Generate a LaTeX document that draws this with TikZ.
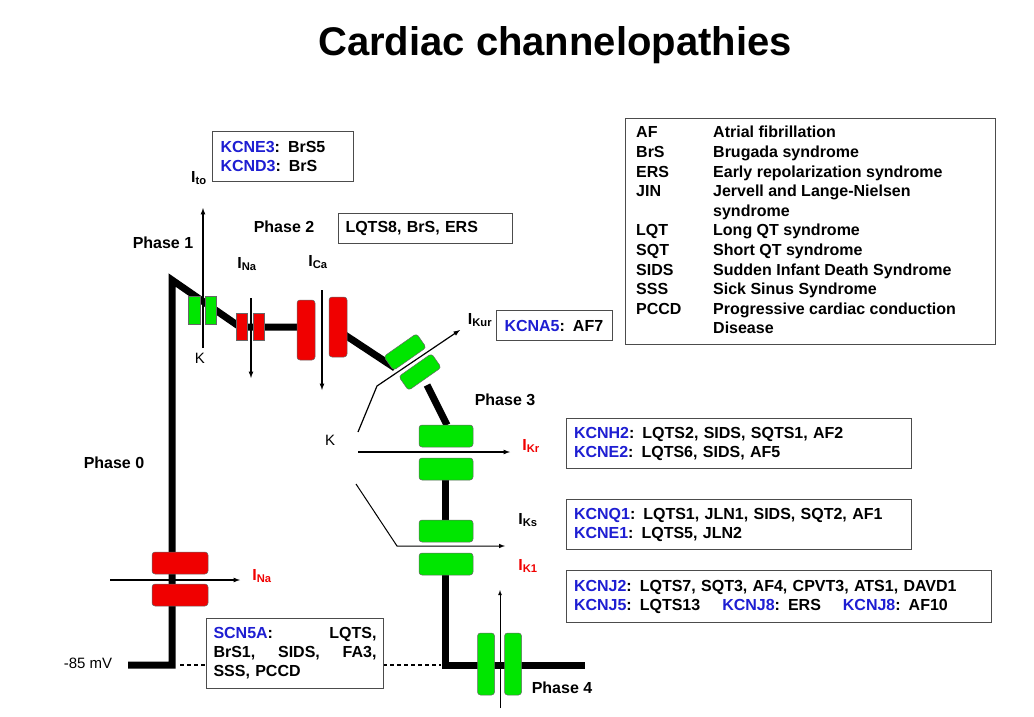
\documentclass[tikz,border=0pt]{standalone}
\usepackage{fontspec}
\setmainfont{Liberation Sans}
\definecolor{gr}{RGB}{0,230,0}
\definecolor{rd}{RGB}{240,0,0}
\definecolor{bl}{RGB}{30,30,210}
\begin{document}
\begin{tikzpicture}[x=1pt,y=-1pt,
  every node/.style={font=\fontsize{16}{19}\selectfont\bfseries},
  thick line/.style={line width=7pt},
  gch/.style={draw=black!60,fill=gr,rounded corners=3pt,line width=0.5pt},
  rch/.style={draw=black!60,fill=rd,rounded corners=3pt,line width=0.5pt},
  arr/.style={line width=1.2pt,-latex},
  box/.style={draw=black!70,line width=1pt,fill=white},
  lbl/.style={inner sep=0pt}]
\useasboundingbox (0,0) rectangle (1034,717);
\node (title) at (555,45) {\fontsize{40}{44}\selectfont\bfseries Cardiac channelopathies};
% action potential
\coordinate (a0) at (128,665); \coordinate (a1) at (172,665);
\coordinate (a2) at (172,280); \coordinate (a3) at (240,327);
\coordinate (a4) at (300,327); \coordinate (a5) at (345,335);
\coordinate (a6) at (395,368); \coordinate (a7) at (427,385);
\coordinate (a8) at (447,425); \coordinate (a9) at (445,480);
\coordinate (a10) at (445,520); \coordinate (a11) at (445,575);
\coordinate (a12) at (445,665); \coordinate (a13) at (585,665);
\draw[line width=2pt,dash pattern=on 4pt off 3pt] (180,665) -- (441,665);
\draw[thick line] (a0) -- (a1) -- (a2) -- (a3) -- (a4);
\draw[thick line] (a5) -- (a6); \draw[thick line] (a7) -- (a8);
\draw[thick line,line cap=round] (a9) -- (a10);
\draw[thick line] (a11) -- (a12) -- (a13);
% INa phase 0
\node[rch,minimum width=56pt,minimum height=22pt] (n1) at (180,563) {};
\node[rch,minimum width=56pt,minimum height=22pt] (n2) at (180,595) {};
\coordinate (s0) at (110,580); \coordinate (e0) at (240,580);
\draw[arr] (s0) -- (e0);
\node[lbl,text=rd] (ina0) at (262,576) {I\textsubscript{Na}};
% phase 1
\node[gch,rounded corners=0pt,minimum width=12pt,minimum height=28pt] (g1) at (194,310) {};
\node[gch,rounded corners=0pt,minimum width=11pt,minimum height=28pt] (g2) at (211,310) {};
\coordinate (s1) at (203,348); \coordinate (e1) at (203,208);
\draw[arr] (s1) -- (e1);
\node[lbl] (ito) at (199,178) {I\textsubscript{to}};
\node[lbl] (k1) at (200,358) {\fontsize{15}{17}\selectfont\mdseries K};
% INa small
\node[rch,rounded corners=0pt,minimum width=11pt,minimum height=27pt] (r1) at (242,327) {};
\node[rch,rounded corners=0pt,minimum width=11pt,minimum height=27pt] (r2) at (259,327) {};
\coordinate (s2) at (251,298); \coordinate (e2) at (251,378);
\draw[arr] (s2) -- (e2);
\node[lbl] (ina1) at (247,264) {I\textsubscript{Na}};
% ICa
\node[rch,minimum width=18pt,minimum height=60pt] (c1) at (306,330) {};
\node[rch,minimum width=18pt,minimum height=60pt] (c2) at (338,327) {};
\coordinate (s3) at (322,290); \coordinate (e3) at (322,390);
\draw[arr] (s3) -- (e3);
\node[lbl] (ica) at (318,262) {I\textsubscript{Ca}};
% IKur
\node[gch,minimum width=40pt,minimum height=17pt,rotate=35] (t1) at (405,352) {};
\node[gch,minimum width=40pt,minimum height=17pt,rotate=35] (t2) at (420,372) {};
\coordinate (k0) at (358,432); \coordinate (k0b) at (377,386); \coordinate (e4) at (460,330);
\draw[arr] (k0) -- (k0b) -- (e4);
\node[lbl] (ikur) at (480,320) {I\textsubscript{Kur}};
% IKr
\node[gch,minimum width=54pt,minimum height=22pt] (kr1) at (446,436) {};
\node[gch,minimum width=54pt,minimum height=22pt] (kr2) at (446,469) {};
\coordinate (s5) at (358,452); \coordinate (e5) at (510,452);
\draw[arr] (s5) -- (e5);
\node[lbl] (kk) at (330,440) {\fontsize{15}{17}\selectfont\mdseries K};
\node[lbl,text=rd] (ikr) at (531,446) {I\textsubscript{Kr}};
% IKs / IK1
\node[gch,minimum width=54pt,minimum height=22pt] (ks1) at (446,531) {};
\node[gch,minimum width=54pt,minimum height=22pt] (ks2) at (446,564) {};
\coordinate (s6) at (356,484); \coordinate (m6) at (397,546); \coordinate (e6) at (505,546);
\draw[arr,line width=1pt] (s6) -- (m6) -- (e6);
\node[lbl] (iks) at (528,520) {I\textsubscript{Ks}};
\node[lbl,text=rd] (ik1) at (528,566) {I\textsubscript{K1}};
% Phase 4
\node[gch,minimum width=17pt,minimum height=62pt] (p1) at (486,664) {};
\node[gch,minimum width=17pt,minimum height=62pt] (p2) at (513,664) {};
\coordinate (s7) at (500,708); \coordinate (e7) at (500,590);
\draw[arr,line width=0.8pt] (s7) -- (e7);
% labels
\node (ph0) at (114,463) {Phase 0};
\node (ph1) at (163,243) {Phase 1};
\node (ph2) at (284,227) {Phase 2};
\node (ph3) at (505,400) {Phase 3};
\node (ph4) at (562,688) {Phase 4};
\node (mv) at (88,663) {\fontsize{15}{17}\selectfont\mdseries -85 mV};
% boxes
\node[box,anchor=north west,minimum width=141pt,minimum height=50pt,align=left,text width=125pt,inner sep=6pt] (b1) at (212,131)
 {\textcolor{bl}{KCNE3}: BrS5\\\textcolor{bl}{KCND3}: BrS};
\node[box,anchor=north west,minimum width=174pt,minimum height=30pt,align=left,text width=160pt,inner sep=6pt] (b2) at (338,213)
 {LQTS8, BrS, ERS};
\node[box,anchor=north west,minimum width=116pt,minimum height=30pt,align=left,text width=100pt,inner sep=6pt] (b3) at (496,310)
 {\textcolor{bl}{KCNA5}: AF7};
\node[box,anchor=north west,minimum width=345pt,minimum height=50pt,align=left,text width=330pt,inner sep=6pt] (b4) at (566,418)
 {\textcolor{bl}{KCNH2}: LQTS2, SIDS, SQTS1, AF2\\\textcolor{bl}{KCNE2}: LQTS6, SIDS, AF5};
\node[box,anchor=north west,minimum width=345pt,minimum height=50pt,align=left,text width=330pt,inner sep=6pt] (b5) at (566,499)
 {\textcolor{bl}{KCNQ1}: LQTS1, JLN1, SIDS, SQT2, AF1\\\textcolor{bl}{KCNE1}: LQTS5, JLN2};
\node[box,anchor=north west,minimum width=425pt,minimum height=52pt,align=left,text width=410pt,inner sep=6pt] (b6) at (566,570)
 {\textcolor{bl}{KCNJ2}: LQTS7, SQT3, AF4, CPVT3, ATS1, DAVD1\\\textcolor{bl}{KCNJ5}: LQTS13\hspace{22pt}\textcolor{bl}{KCNJ8}: ERS\hspace{22pt}\textcolor{bl}{KCNJ8}: AF10};
\node[box,anchor=north west,minimum width=177pt,minimum height=70pt,align=left,text width=163pt,inner sep=6pt] (b7) at (206,618)
 {\makebox[163pt][s]{\textcolor{bl}{SCN5A}:\hfill LQTS,}\\\makebox[163pt][s]{BrS1,\hfill SIDS,\hfill FA3,}\\SSS, PCCD};
\node[box,anchor=north west,minimum width=370pt,minimum height=226pt,inner sep=8pt] (leg) at (625,118) {};
\node[anchor=north west,inner sep=0pt,font=\fontsize{16}{19.6}\selectfont\bfseries] (legt) at (636,124)
 {\begin{tabular}{@{}p{77pt}@{}p{270pt}@{}}
 AF & Atrial fibrillation\\ BrS & Brugada syndrome\\ ERS & Early repolarization syndrome\\
 JIN & Jervell and Lange-Nielsen\\ & syndrome\\ LQT & Long QT syndrome\\ SQT & Short QT syndrome\\
 SIDS & Sudden Infant Death Syndrome\\ SSS & Sick Sinus Syndrome\\ PCCD & Progressive cardiac conduction\\ & Disease
 \end{tabular}};
\end{tikzpicture}
\end{document}
